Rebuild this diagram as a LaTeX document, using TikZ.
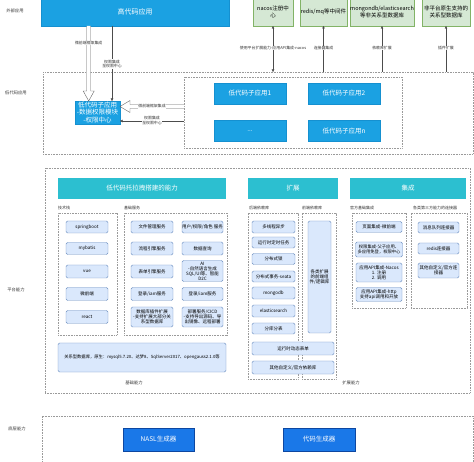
\documentclass[tikz,border=0pt]{standalone}
\usepackage{fontspec}
\setmainfont{Noto Sans CJK SC}
\usetikzlibrary{arrows.meta,calc}
\definecolor{skyblue}{HTML}{1BA1E2}
\definecolor{skyline}{HTML}{1590D0}
\definecolor{gfill}{HTML}{D5E8D4}
\definecolor{gline}{HTML}{82B366}
\definecolor{hdrteal}{HTML}{2CBFD0}
\definecolor{lbfill}{HTML}{DAE8FC}
\definecolor{lbline}{HTML}{6C8EBF}
\definecolor{nblue}{HTML}{1A78E8}
\definecolor{nline}{HTML}{0D47A1}
\definecolor{dotgray}{HTML}{9A9A9A}
\definecolor{txt}{HTML}{333333}
\begin{document}
\begin{tikzpicture}[x=1pt,y=-1pt,
  every node/.style={inner sep=0pt, outer sep=0pt, align=center},
  lbl/.style={font=\fontsize{4.3}{5.2}\selectfont, text=txt},
  slbl/.style={font=\fontsize{4}{5}\selectfont, text=txt, anchor=west},
  dbox/.style={draw=dotgray, dash pattern=on 0.8pt off 0.8pt, line width=0.5pt},
  item/.style={draw=lbline, fill=lbfill, rounded corners=1.5pt, line width=0.4pt, font=\fontsize{4.5}{5}\selectfont, text=black},
  appbox/.style={fill=skyblue, draw=skyline, line width=0.4pt, text=white, font=\fontsize{6.5}{7.2}\selectfont},
  gbox/.style={fill=gfill, draw=gline, line width=0.5pt, text=black, font=\fontsize{5.5}{6.5}\selectfont},
  hdr/.style={fill=hdrteal, text=white, font=\fontsize{6.5}{7.5}\selectfont},
  gen/.style={fill=nblue, draw=nline, line width=0.6pt, text=white, font=\fontsize{6.5}{7.5}\selectfont},
  arr/.style={-{Triangle[length=2.5pt,width=2.5pt]}, line width=0.4pt, draw=black!70},
  biarr/.style={{Triangle[length=2.5pt,width=2.5pt]}-{Triangle[length=2.5pt,width=2.5pt]}, line width=0.4pt, draw=black!70},
  hollow/.style={draw=black!60, fill=white, line width=0.4pt},
  alabel/.style={fill=white, font=\fontsize{3.9}{4.7}\selectfont, text=txt, inner sep=0.6pt}
]
\useasboundingbox (0,0) rectangle (474,462);

% left labels
\node[lbl] (L1) at (15,11) {外部应用};
\node[lbl] (L2) at (16,93) {低代码应用};
\node[lbl] (L3) at (16,290) {平台能力};
\node[lbl] (L4) at (17,429) {底层能力};

% top layer
\node[appbox, font=\fontsize{7}{8}\selectfont, minimum width=188, minimum height=28] (hi) at (135,12) {高代码应用};
\node[gbox, minimum width=40, minimum height=28] (nacos) at (273,12) {nacos注册中\\心};
\node[gbox, minimum width=47, minimum height=28] (redis) at (323.5,12) {redis/mq等中间件};
\node[gbox, minimum width=62, minimum height=28] (mongo) at (382,12) {mongondb/elasticsearch\\等非关系型数据库};
\node[gbox, minimum width=48, minimum height=28] (nprel) at (446,12) {非平台原生支持的\\关系型数据库};

% low code application layer
\node[dbox, minimum width=430, minimum height=82] (lc) at (258,113) {};
\node[dbox, minimum width=218, minimum height=71] (inner) at (293,112.5) {};
\node[appbox, minimum width=72, minimum height=21] (s1) at (250,93.5) {低代码子应用1};
\node[appbox, minimum width=72, minimum height=21] (s2) at (344,93.5) {低代码子应用2};
\node[appbox, minimum width=72, minimum height=21] (s3) at (250,131) {...};
\node[appbox, minimum width=72, minimum height=21] (sn) at (344,131) {低代码子应用n};
\node[appbox, minimum width=45, minimum height=23] (cent) at (97.5,112.5) {低代码子应用\\-数据权限模块\\-权限中心};

% connectors to top boxes
\draw[biarr] (nacos.south |- lc.north) -- (nacos.south);
\draw[arr] (redis.south |- lc.north) -- (redis.south);
\draw[arr] (mongo.south |- lc.north) -- (mongo.south);
\draw[arr] (nprel.south |- lc.north) -- (nprel.south);
\node[alabel] (t1) at (273,48) {使用平台扩展能力-应用API集成-nacos};
\node[alabel] (t2) at (323.5,48) {连接器集成};
\node[alabel] (t3) at (382,48) {依赖库扩展};
\node[alabel] (t4) at (446,48) {插件扩展};

% hollow arrow high-code -> central
\coordinate (vx) at (88.7,0);
\draw[hollow] ($(hi.south -| vx)+(-2,0)$) -- ($(cent.north -| vx)+(-2,-10)$) -- ++(-3.5,0)
  -- (cent.north -| vx) -- ++(5.5,-10) -- ++(-3.5,0) -- ($(hi.south -| vx)+(2,0)$);
\node[alabel] (m1) at (88.7,43) {微前端框架集成};
% thin arrow high-code -> central
\coordinate (tx) at (112,0);
\draw[arr] (hi.south -| tx) -- (cent.north -| tx);
\node[alabel] (m2) at (112,64) {权限集成\\至权限中心};

% hollow arrow inner -> central
\coordinate (hy) at (0,106.5);
\draw[hollow] ($(inner.west |- hy)+(0,-2)$) -- ($(cent.east |- hy)+(10,-2)$) -- ++(0,-4)
  -- (cent.east |- hy) -- ++(10,6) -- ++(0,-4) -- ($(inner.west |- hy)+(0,2)$);
\node[alabel] (m3) at (152,106.5) {微前端框架集成};
\coordinate (ty) at (0,121);
\draw[arr] (inner.west |- ty) -- (cent.east |- ty);
\node[alabel] (m4) at (152,120.5) {权限集成\\至权限中心};

% platform layer
\node[dbox, minimum width=425, minimum height=225] (plat) at (257.5,280.5) {};
\node[hdr, minimum width=168, minimum height=21] (h1) at (142,188.5) {低代码托拉拽搭建的能力};
\node[hdr, minimum width=90, minimum height=21] (h2) at (293,188.5) {扩展};
\node[hdr, minimum width=116, minimum height=21] (h3) at (408,188.5) {集成};

% tech stack
\node[slbl] (ltech) at (58,208) {技术栈};
\node[dbox, minimum width=59, minimum height=122] (tech) at (87.5,274) {};
\node[item, minimum width=42, minimum height=12] (k1) at (87,227) {springboot};
\node[item, minimum width=42, minimum height=12] (k2) at (87,248.5) {mybatis};
\node[item, minimum width=42, minimum height=13] (k3) at (87,271.5) {vue};
\node[item, minimum width=42, minimum height=13] (k4) at (87,294) {微前端};
\node[item, minimum width=42, minimum height=13] (k5) at (87,317) {react};

% basic services
\node[slbl] (lbase) at (124,208) {基础服务};
\node[dbox, minimum width=103, minimum height=122] (base) at (175.5,274) {};
\node[item, minimum width=42, minimum height=12] (b1) at (152,227) {文件管理服务};
\node[item, minimum width=42, minimum height=13] (b2) at (152,248.5) {流程引擎服务};
\node[item, minimum width=42, minimum height=13] (b3) at (152,271.5) {表单引擎服务};
\node[item, minimum width=42, minimum height=13] (b4) at (152,294) {登录/iam服务};
\node[item, minimum width=42, minimum height=20] (b5) at (152,317) {数据库插件扩展\\-支持扩展大部分关\\系型数据库};
\node[item, minimum width=41, minimum height=12] (c1) at (202.5,227) {用户/权限/角色 服务};
\node[item, minimum width=41, minimum height=13] (c2) at (202.5,248.5) {数据查询};
\node[item, minimum width=41, minimum height=21] (c3) at (202.5,271) {AI\\-自然语言生成\\SQL/UI等、智能\\D2C};
\node[item, minimum width=41, minimum height=13] (c4) at (202.5,294) {登录/iam服务};
\node[item, minimum width=41, minimum height=20] (c5) at (202.5,317) {部署服务/CICD\\-支持导出源码、导\\出镜像、远程部署};

\node[item, font=\fontsize{4.3}{5}\selectfont, minimum width=168, minimum height=29] (rdb) at (142,357.5) {关系型数据库，原生：mysql5.7.20、达梦8、SqlServer2017、opengauss2.1.0等};
\node[lbl] (lb1) at (134,383) {基础能力};

% extension
\node[slbl] (lback) at (249,208) {后端依赖库};
\node[dbox, minimum width=50, minimum height=166] (back) at (273,296) {};
\node[slbl] (lfront) at (302,208) {前端依赖库};
\node[dbox, minimum width=34, minimum height=166] (front) at (319,296) {};
\node[item, minimum width=43, minimum height=12] (e1) at (273.5,227) {多线程异步};
\node[item, minimum width=43, minimum height=11] (e2) at (273.5,242.5) {运行时定时任务};
\node[item, minimum width=43, minimum height=11] (e3) at (273.5,259) {分布式锁};
\node[item, minimum width=43, minimum height=11] (e4) at (273.5,276.5) {分布式事务-seata};
\node[item, minimum width=43, minimum height=12] (e5) at (273.5,293) {mongodb};
\node[item, minimum width=43, minimum height=12] (e6) at (273.5,311) {elasticsearch};
\node[item, minimum width=43, minimum height=11] (e7) at (273.5,328.5) {分库分表};
\node[item, minimum width=23, minimum height=112] (f1) at (319.5,277) {各类扩展\\的前端组\\件/逻辑库};
\node[item, minimum width=82, minimum height=13] (e8) at (293,348.5) {运行时动态表单};
\node[item, minimum width=82, minimum height=13] (e9) at (293,367.5) {其他自定义/官方依赖库};
\node[lbl] (lb2) at (351,383) {扩展能力};

% integration
\node[slbl] (loff) at (350,208) {官方基础集成};
\node[dbox, minimum width=54, minimum height=95] (off) at (379,260.5) {};
\node[item, minimum width=46, minimum height=11] (i1) at (379,227) {页面集成-微前端};
\node[item, font=\fontsize{4.3}{5}\selectfont, minimum width=47, minimum height=15] (i2) at (379,249.5) {权限集成-父子应用、\\多应用免登，权限中心};
\node[item, minimum width=46, minimum height=19] (i3) at (379,272.5) {应用API集成-Nacos\\1. 注册\\2. 调用};
\node[item, minimum width=46, minimum height=14] (i4) at (379,294.5) {应用API集成-http\\支持api调用和开放};
\node[slbl] (lconn) at (413,208) {各类第三方能力的连接器};
\node[dbox, minimum width=56, minimum height=95] (conn) at (439,260.5) {};
\node[item, minimum width=41, minimum height=11] (j1) at (438.5,227.5) {消息队列连接器};
\node[item, minimum width=41, minimum height=11] (j2) at (438.5,248.5) {redis连接器};
\node[item, minimum width=41, minimum height=15] (j3) at (438.5,270.5) {其他自定义/官方连\\接器};

% bottom layer
\draw[dbox] (42,463) -- (42,416) -- (473,416) -- (473,463);
\node[gen, minimum width=71, minimum height=23] (nasl) at (158.5,439.5) {NASL生成器};
\node[gen, minimum width=72, minimum height=23] (code) at (319,439.5) {代码生成器};
\end{tikzpicture}
\end{document}
